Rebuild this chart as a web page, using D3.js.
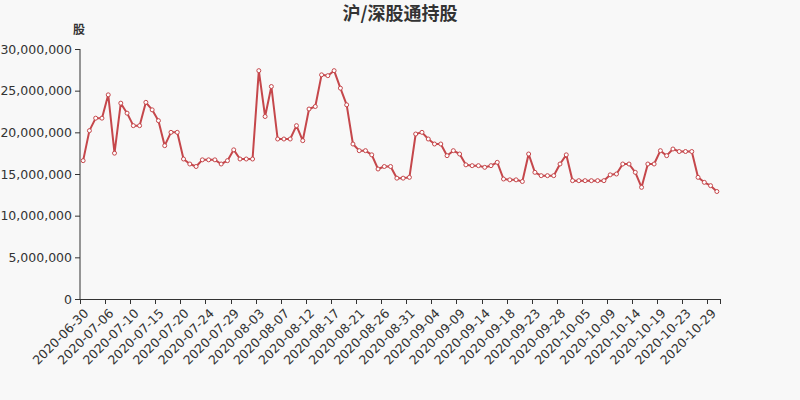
<!DOCTYPE html>
<html><head><meta charset="utf-8">
<script src="https://cdn.jsdelivr.net/npm/d3@7"></script>
<style>
html,body{margin:0;padding:0;background:#f8f8f8;}
svg{display:block;font-family:"DejaVu Sans",sans-serif;}
</style></head>
<body>
<svg id="c" width="800" height="400"></svg>
<script>
const title = "沪/深股通持股";
const yUnit = "股";
const dates = ["2020-06-30","2020-07-01","2020-07-02","2020-07-03","2020-07-06","2020-07-07","2020-07-08","2020-07-09","2020-07-10","2020-07-11","2020-07-13","2020-07-14","2020-07-15","2020-07-16","2020-07-17","2020-07-18","2020-07-20","2020-07-21","2020-07-22","2020-07-23","2020-07-24","2020-07-26","2020-07-27","2020-07-28","2020-07-29","2020-07-30","2020-07-31","2020-08-01","2020-08-03","2020-08-04","2020-08-05","2020-08-06","2020-08-07","2020-08-08","2020-08-10","2020-08-11","2020-08-12","2020-08-13","2020-08-14","2020-08-15","2020-08-17","2020-08-18","2020-08-19","2020-08-20","2020-08-21","2020-08-22","2020-08-24","2020-08-25","2020-08-26","2020-08-27","2020-08-28","2020-08-29","2020-08-31","2020-09-01","2020-09-02","2020-09-03","2020-09-04","2020-09-05","2020-09-07","2020-09-08","2020-09-09","2020-09-10","2020-09-11","2020-09-12","2020-09-14","2020-09-15","2020-09-16","2020-09-17","2020-09-18","2020-09-19","2020-09-21","2020-09-22","2020-09-23","2020-09-24","2020-09-25","2020-09-26","2020-09-28","2020-09-29","2020-09-30","2020-10-01","2020-10-05","2020-10-06","2020-10-07","2020-10-08","2020-10-09","2020-10-10","2020-10-12","2020-10-13","2020-10-14","2020-10-15","2020-10-16","2020-10-17","2020-10-19","2020-10-20","2020-10-21","2020-10-22","2020-10-23","2020-10-26","2020-10-27","2020-10-28","2020-10-29","2020-10-30"];
const holdings = [16600000,20200000,21700000,21700000,24500000,17500000,23500000,22300000,20800000,20800000,23600000,22700000,21400000,18400000,20000000,20000000,16800000,16200000,15900000,16700000,16700000,16700000,16200000,16600000,17900000,16800000,16800000,16800000,27400000,21900000,25500000,19200000,19200000,19200000,20800000,19000000,22800000,23100000,26900000,26800000,27400000,25300000,23300000,18600000,17800000,17800000,17300000,15600000,15900000,15900000,14500000,14500000,14600000,19800000,20000000,19200000,18600000,18600000,17200000,17800000,17400000,16100000,16000000,16000000,15800000,16000000,16400000,14400000,14300000,14300000,14100000,17400000,15200000,14800000,14800000,14800000,16200000,17300000,14200000,14200000,14200000,14200000,14200000,14200000,14900000,15000000,16200000,16200000,15200000,13400000,16200000,16200000,17800000,17200000,18000000,17700000,17700000,17700000,14600000,14000000,13600000,12900000];
const yTicks = [0,5000000,10000000,15000000,20000000,25000000,30000000];
const labelEvery = 4;

const color = "#c5474b";
const axisColor = "#333";
const svg = d3.select("#c");
const L = 80, R = 720, T = 49, B = 299;

const x = d3.scaleBand().domain(dates).range([L, R]).paddingInner(0).paddingOuter(0);
const y = d3.scaleLinear().domain([0, 30000000]).range([B, T]);
const bw = x.bandwidth();

// title
svg.append("text").attr("x", 400).attr("y", 20).attr("text-anchor", "middle")
  .attr("font-family", "'Noto Sans CJK SC',sans-serif").attr("font-weight", "bold")
  .attr("font-size", 18).attr("fill", "#333").text(title);
svg.append("text").attr("x", 79).attr("y", 34).attr("text-anchor", "middle")
  .attr("font-family", "'Noto Sans CJK SC',sans-serif").attr("font-weight", "bold")
  .attr("font-size", 12).attr("fill", "#333").text(yUnit);

// y axis
const ya = svg.append("g").attr("transform", `translate(${L},0)`)
  .call(d3.axisLeft(y).tickValues(yTicks).tickFormat(d3.format(",")).tickSize(5).tickPadding(3));
ya.select(".domain").attr("stroke", axisColor).attr("d", `M-0.5,${T}V${B}`).attr("transform","translate(0.5,0)");
ya.selectAll(".tick line").attr("stroke", axisColor);
ya.selectAll(".tick text").attr("fill", "#333").attr("font-size", 12.5).attr("font-family", "'DejaVu Sans',sans-serif");

// x axis
const xa = svg.append("g");
xa.append("line").attr("x1", L).attr("x2", R).attr("y1", B + 0.5).attr("y2", B + 0.5).attr("stroke", axisColor);
const tickIdx = dates.map((d, i) => i).filter(i => i % labelEvery === 0);
const tickXs = tickIdx.map(i => x(dates[i])).concat([x(dates[dates.length - 1]) + bw]);
xa.selectAll("line.tk").data(tickXs).join("line").attr("class", "tk")
  .attr("x1", d => Math.round(d) + 0.5).attr("x2", d => Math.round(d) + 0.5)
  .attr("y1", B).attr("y2", B + 5).attr("stroke", axisColor);
xa.selectAll("text.lb").data(tickIdx).join("text").attr("class", "lb")
  .attr("transform", i => `translate(${x(dates[i]) + bw / 2},${B + 9}) rotate(-45)`)
  .attr("text-anchor", "end").attr("dy", "0.7em")
  .attr("font-size", 12.5).attr("fill", "#333").text(i => dates[i]);

// line
const line = d3.line().x((d, i) => x(dates[i]) + bw / 2).y(d => y(d));
svg.append("path").datum(holdings).attr("d", line).attr("fill", "none")
  .attr("stroke", color).attr("stroke-width", 2).attr("stroke-linejoin", "round");
svg.selectAll("circle.pt").data(holdings).join("circle").attr("class", "pt")
  .attr("cx", (d, i) => x(dates[i]) + bw / 2).attr("cy", d => y(d)).attr("r", 2)
  .attr("fill", "#fff").attr("stroke", color).attr("stroke-width", 1);
</script>
</body></html>
